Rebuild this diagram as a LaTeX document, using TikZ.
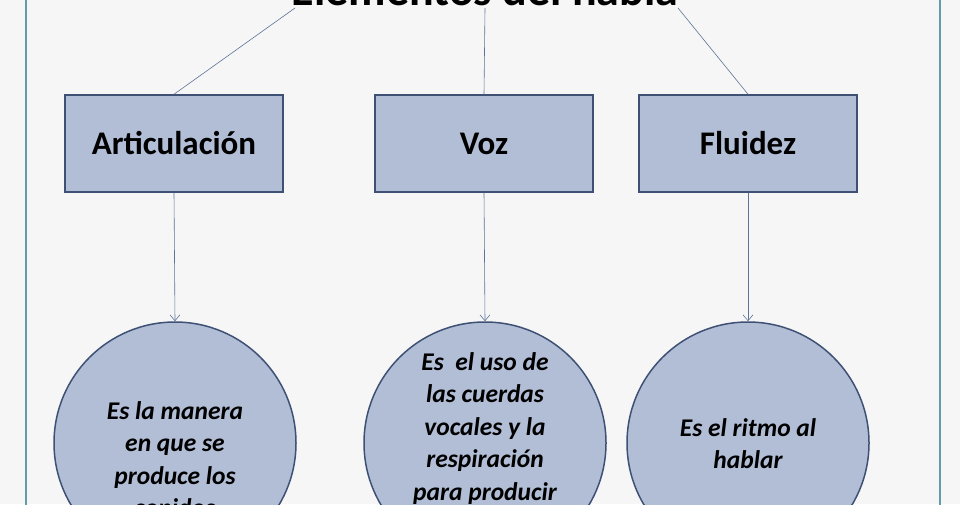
\documentclass[tikz,border=0pt]{standalone}
\usepackage{fontspec}
\setmainfont{Carlito}
\usetikzlibrary{arrows.meta}
\definecolor{bg}{HTML}{F6F6F6}
\definecolor{frame}{HTML}{5F9EA8}
\definecolor{boxfill}{HTML}{B2BED6}
\definecolor{boxline}{HTML}{3E5175}
\definecolor{conn}{HTML}{5E7498}
\tikzset{
 box/.style={draw=boxline,line width=1.5pt,fill=boxfill,minimum width=218pt,minimum height=97pt,font=\fontsize{33}{36}\selectfont\bfseries,inner sep=0pt},
 circ/.style={circle,draw=boxline,line width=1.5pt,fill=boxfill,minimum size=242pt,inner sep=0pt},
 ctext/.style={align=center,font=\fontsize{25.5}{32.5}\selectfont\bfseries\itshape,anchor=north},
 conn/.style={draw=conn,line width=0.6pt},
 arr/.style={conn,-{Straight Barb[length=6pt,width=10pt]}}
}
\begin{document}
\begin{tikzpicture}[x=1pt,y=-1pt]
\useasboundingbox (0,0) rectangle (960,504);
\clip (0,0) rectangle (960,504);
\fill[bg] (0,0) rectangle (960,504);
\draw[frame,line width=2.5pt] (26,-5) -- (26,510);
\draw[frame,line width=2.5pt] (940,-5) -- (940,510);
\node[font=\fontsize{46}{50}\selectfont\bfseries,anchor=base] (t) at (485,5) {Elementos del habla};
\coordinate (tl) at (295,8);
\coordinate (tm) at (485,8);
\coordinate (tr) at (678,8);
\node[box] (a) at (174,143.5) {Articulación};
\node[box] (v) at (484,143.5) {Voz};
\node[box] (f) at (748,143.5) {Fluidez};
\draw[conn] (tl) -- (a.north);
\draw[conn] (tm) -- (v.north);
\draw[conn] (tr) -- (f.north);
\node[circ] (c1) at (175,443) {};
\node[circ] (c2) at (485,443) {};
\node[circ] (c3) at (748,443) {};
\draw[arr] (a.south) -- (c1.north);
\draw[arr] (v.south) -- (c2.north);
\draw[arr] (f.south) -- (c3.north);
\node[ctext] (x1) at (175,398) {Es la manera\\en que se\\produce los\\sonidos};
\node[ctext] (x2) at (485,349) {Es\ \ el uso de\\las cuerdas\\vocales y la\\respiración\\para producir\\la voz};
\node[ctext] (x3) at (748,415) {Es el ritmo al\\hablar};
\end{tikzpicture}
\end{document}
